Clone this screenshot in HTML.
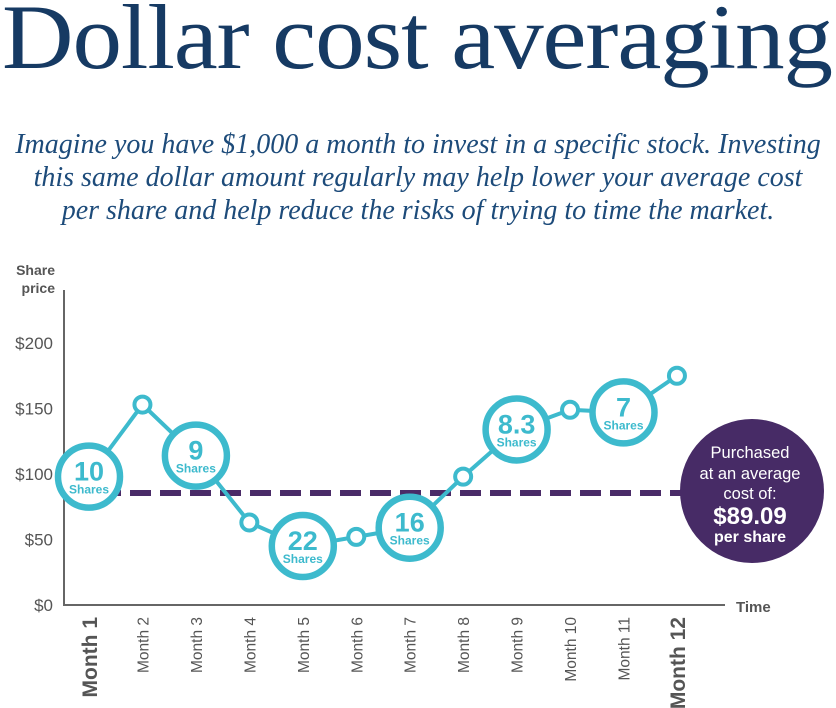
<!DOCTYPE html>
<html><head><meta charset="utf-8"><style>
body{margin:0;width:836px;height:708px;background:#fff;overflow:hidden;position:relative;font-family:"Liberation Sans",sans-serif}
h1{position:absolute;left:2px;top:-16px;margin:0;font:400 92px "Liberation Serif",serif;color:#163a63;letter-spacing:-1px;white-space:nowrap;transform-origin:0 0}
p.sub{position:absolute;left:0;width:836px;top:128px;margin:0;text-align:center;font:italic 28px/33px "Liberation Serif",serif;color:#1d4b7a;white-space:nowrap}
svg{position:absolute;left:0;top:0}
</style></head><body>
<h1 id="t">Dollar cost averaging</h1>
<p class="sub">Imagine you have $1,000 a month to invest in a specific stock. Investing<br>this same dollar amount regularly may help lower your average cost<br>per share and help reduce the risks of trying to time the market.</p>
<svg id="c" width="836" height="708"></svg>
<script>
const months=["Month 1","Month 2","Month 3","Month 4","Month 5","Month 6","Month 7","Month 8","Month 9","Month 10","Month 11","Month 12"];
const prices=[98,153,114,63,45,52,59,98,134,149,147,175];
const shares=["10",null,"9",null,"22",null,"16",null,"8.3",null,"7",null];
const yTicks=[0,50,100,150,200];
const avgCost=85.5;
const avgLabel="$89.09";
const h=document.getElementById('t');const w=h.getBoundingClientRect().width;h.style.transform='scaleX('+(830/w)+')';
const NS="http://www.w3.org/2000/svg",svg=document.getElementById('c');
const x=i=>89+i*53.45, y=v=>605-v*1.31;
function el(t,a,p){const e=document.createElementNS(NS,t);for(const k in a)e.setAttribute(k,a[k]);(p||svg).appendChild(e);return e;}
const ax=el('path',{d:'M64 290V605H725',fill:'none',stroke:'#666',"stroke-width":2});

let t=el('text',{x:55,y:275,"text-anchor":"end","font-size":14,"font-weight":"bold",fill:"#555"});t.textContent="Share";

t=el('text',{x:55,y:293,"text-anchor":"end","font-size":14,"font-weight":"bold",fill:"#555"});t.textContent="price";
t=el('text',{x:736,y:612,"font-size":15,"font-weight":"bold",fill:"#555"});t.textContent="Time";

yTicks.forEach(v=>{const e=el('text',{x:53,y:y(v)+6,"text-anchor":"end","font-size":17,fill:"#555"});e.textContent="$"+v;
});
months.forEach((m,i)=>{const b=i==0||i==11;const e=el('text',{transform:`translate(${x(i)+(b?8:6)},617) rotate(-90)`,"text-anchor":"end","font-size":b?21:15.5,"font-weight":b?"bold":"normal",fill:"#555"});e.textContent=m;
});
const dl=el('line',{x1:100,x2:690,y1:y(avgCost),y2:y(avgCost),stroke:'#4a2b68',"stroke-width":6,"stroke-dasharray":"21 9"});

const pl=el('polyline',{points:prices.map((v,i)=>x(i)+','+y(v)).join(' '),fill:'none',stroke:'#3dbacd',"stroke-width":4});

prices.forEach((v,i)=>{const s=shares[i];
 const c=el('circle',{cx:x(i),cy:y(v),r:s?31:8,fill:'#fff',stroke:'#3dbacd',"stroke-width":s?6.5:4});
 
 if(s){const a=el('text',{x:x(i),y:y(v)+4,"text-anchor":"middle","font-size":27,"font-weight":"bold",fill:"#3dbacd"});a.textContent=s;
  
  const b=el('text',{x:x(i),y:y(v)+17,"text-anchor":"middle","font-size":12,"font-weight":"bold",fill:"#3dbacd"});b.textContent="Shares";}
});
const pc=el('circle',{cx:752,cy:491,r:72,fill:'#472b66'});

[["Purchased",458,16.5,"normal"],["at an average",479,16.5,"normal"],["cost of:",499,16.5,"normal"],[avgLabel,524,24,"bold"],["per share",542,16,"bold"]].forEach(a=>{
 const e=el('text',{x:750,y:a[1],"text-anchor":"middle","font-size":a[2],"font-weight":a[3],fill:"#fff"});e.textContent=a[0];});
</script>
</body></html>
